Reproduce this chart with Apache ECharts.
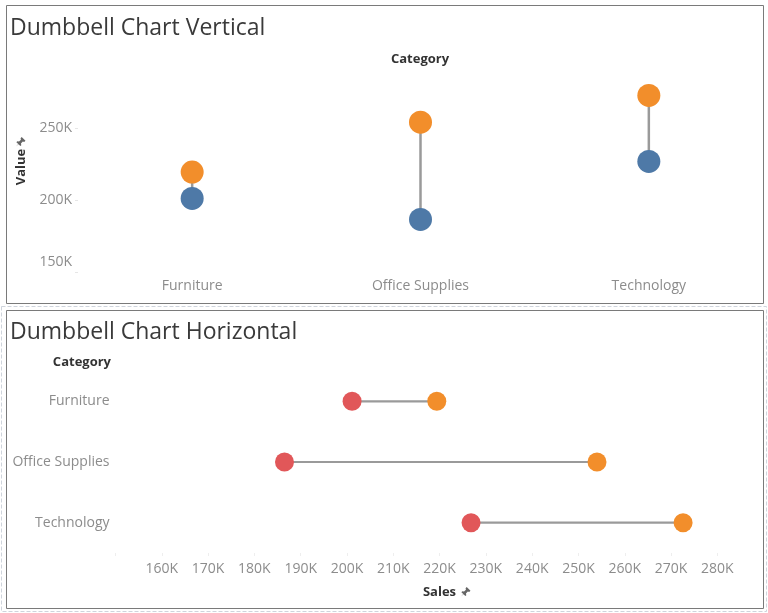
<!DOCTYPE html>
<html>
<head>
<meta charset="utf-8">
<script src="https://cdn.jsdelivr.net/npm/echarts@6/dist/echarts.min.js"></script>
<style>
  html, body { margin: 0; padding: 0; background: #fff; }
  #chart { width: 768px; height: 613px; }
</style>
</head>
<body>
<div id="chart"></div>
<script>
// ---- data ----
const categories = ['Furniture', 'Office Supplies', 'Technology'];
const lowSales = [201100, 186500, 226800];   // blue (vertical) / red (horizontal)
const highSales = [219400, 254000, 272600];  // orange
const vTicks = [150000, 200000, 250000];
const hTicks = [150000, 160000, 170000, 180000, 190000, 200000, 210000, 220000, 230000, 240000, 250000, 260000, 270000, 280000];
const hTickLabels = ['160K', '170K', '180K', '190K', '200K', '210K', '220K', '230K', '240K', '250K', '260K', '270K', '280K'];

const ORANGE = '#F28E2B', BLUE = '#4E79A7', RED = '#E15759', LINE = '#9a9a9a';
const LABEL = '#8c8c8c', DARK = '#333333';
const FONT = 'Open Sans';

const fmtK = v => (v / 1000) + 'K';

// small pushpin polygon in a 10x10 box
const pinPts = [[6,0],[10,4],[8.6,5.2],[7.2,4.8],[5.2,6.8],[5.6,8.6],[4.6,9.6],[2.6,7.6],[0,10],[2.4,7.4],[0.4,5.4],[1.4,4.4],[3.2,4.8],[5.2,2.8],[4.8,1.4]];
function pin(x, y, s) { return { type: 'polygon', shape: { points: pinPts.map(p => [x + p[0] * s, y + p[1] * s]) }, style: { fill: '#666' } }; }

const chart = echarts.init(document.getElementById('chart'), null, { renderer: 'canvas' });

function dumbbellV(params, api) {
  const p1 = api.coord([api.value(0), api.value(1)]);
  const p2 = api.coord([api.value(0), api.value(2)]);
  return { type: 'line', shape: { x1: p1[0], y1: p1[1], x2: p2[0], y2: p2[1] },
           style: { stroke: LINE, lineWidth: 2.5 } };
}
function dumbbellH(params, api) {
  const p1 = api.coord([api.value(1), api.value(0)]);
  const p2 = api.coord([api.value(2), api.value(0)]);
  return { type: 'line', shape: { x1: p1[0], y1: p1[1], x2: p2[0], y2: p2[1] },
           style: { stroke: LINE, lineWidth: 2.2 } };
}

const option = {
  animation: false,
  textStyle: { fontFamily: FONT },
  grid: [
    { left: 78, top: 70.4, width: 685, height: 201.6, outerBoundsMode: 'none' },
    { left: 115.5, top: 371, width: 625, height: 182, outerBoundsMode: 'none' }
  ],
  xAxis: [
    { type: 'category', gridIndex: 0, data: categories,
      axisLine: { show: false }, axisTick: { show: false }, splitLine: { show: false },
      axisLabel: { color: LABEL, fontSize: 14, fontFamily: FONT, margin: 7 } },
    { type: 'value', gridIndex: 1, min: 150000, max: 285000, interval: 10000,
      axisLine: { show: false }, splitLine: { show: false },
      axisTick: { show: true, length: 3, customValues: hTicks, lineStyle: { color: '#eeeeee' } },
      axisLabel: { color: LABEL, fontSize: 14, fontFamily: FONT, margin: 9,
        formatter: v => { const s = fmtK(v); return hTickLabels.indexOf(s) >= 0 ? s : ''; } } }
  ],
  yAxis: [
    { type: 'value', gridIndex: 0, min: 150000, max: 290000, interval: 50000,
      axisLine: { show: false }, splitLine: { show: false },
      axisTick: { show: true, length: 3, customValues: vTicks, lineStyle: { color: '#e6e6e6' } },
      axisLabel: { color: LABEL, fontSize: 14, fontFamily: FONT, margin: 6,
        formatter: v => { if (vTicks.indexOf(v) < 0) return ''; const s = fmtK(v);
          return v === 150000 ? '{lo|' + s + '}' : s; },
        rich: { lo: { color: LABEL, fontSize: 14, fontFamily: FONT, padding: [0, 0, 20, 0] } } } },
    { type: 'category', gridIndex: 1, data: categories, inverse: true,
      axisLine: { show: false }, axisTick: { show: false }, splitLine: { show: false },
      axisLabel: { color: LABEL, fontSize: 14, fontFamily: FONT, margin: 6 } }
  ],
  series: [
    { type: 'custom', xAxisIndex: 0, yAxisIndex: 0, renderItem: dumbbellV, z: 1,
      data: categories.map((c, i) => [i, lowSales[i], highSales[i]]) },
    { type: 'scatter', xAxisIndex: 0, yAxisIndex: 0, symbolSize: 23, z: 3,
      itemStyle: { color: BLUE, opacity: 1 },
      data: categories.map((c, i) => [i, lowSales[i]]) },
    { type: 'scatter', xAxisIndex: 0, yAxisIndex: 0, symbolSize: 23, z: 3,
      itemStyle: { color: ORANGE, opacity: 1 },
      data: categories.map((c, i) => [i, highSales[i]]) },
    { type: 'custom', xAxisIndex: 1, yAxisIndex: 1, renderItem: dumbbellH, z: 1,
      data: categories.map((c, i) => [i, lowSales[i], highSales[i]]) },
    { type: 'scatter', xAxisIndex: 1, yAxisIndex: 1, symbolSize: 19, z: 3,
      itemStyle: { color: RED, opacity: 1 },
      data: categories.map((c, i) => [lowSales[i], i]) },
    { type: 'scatter', xAxisIndex: 1, yAxisIndex: 1, symbolSize: 19, z: 3,
      itemStyle: { color: ORANGE, opacity: 1 },
      data: categories.map((c, i) => [highSales[i], i]) }
  ],
  graphic: [
    // panel borders
    { type: 'rect', shape: { x: 6.5, y: 5.5, width: 757, height: 298 }, z: -10,
      style: { fill: 'none', stroke: '#7a7a7a', lineWidth: 1 } },
    { type: 'rect', shape: { x: 1.5, y: 306.5, width: 765, height: 305 }, z: -10,
      style: { fill: 'none', stroke: '#cfd4dc', lineWidth: 1, lineDash: [4, 2] } },
    { type: 'rect', shape: { x: 6.5, y: 310.5, width: 757, height: 298 }, z: -10,
      style: { fill: 'none', stroke: '#7a7a7a', lineWidth: 1 } },
    // titles
    { type: 'text', x: 10, y: 28, style: { text: 'Dumbbell Chart Vertical', fontFamily: FONT, fontSize: 23,
      fill: '#3a3a3a', verticalAlign: 'middle' } },
    { type: 'text', x: 10, y: 332, style: { text: 'Dumbbell Chart Horizontal', fontFamily: FONT, fontSize: 23,
      fill: '#3a3a3a', verticalAlign: 'middle' } },
    // header / axis names
    { type: 'text', x: 420, y: 59, style: { text: 'Category', fontFamily: FONT, fontSize: 13, fontWeight: 'bold',
      fill: DARK, align: 'center', verticalAlign: 'middle' } },
    { type: 'text', x: 111, y: 362, style: { text: 'Category', fontFamily: FONT, fontSize: 13, fontWeight: 'bold',
      fill: DARK, align: 'right', verticalAlign: 'middle' } },
    { type: 'text', x: 21, y: 167, rotation: Math.PI / 2, style: { text: 'Value', fontFamily: FONT, fontSize: 13,
      fontWeight: 'bold', fill: DARK, align: 'center', verticalAlign: 'middle' } },
    { type: 'text', x: 439.5, y: 592, style: { text: 'Sales', fontFamily: FONT, fontSize: 13, fontWeight: 'bold',
      fill: DARK, align: 'center', verticalAlign: 'middle' } },
    // pins
    pin(461, 587, 0.95),
    pin(16, 137, 0.95)
  ]
};
chart.setOption(option);
</script>
</body>
</html>
